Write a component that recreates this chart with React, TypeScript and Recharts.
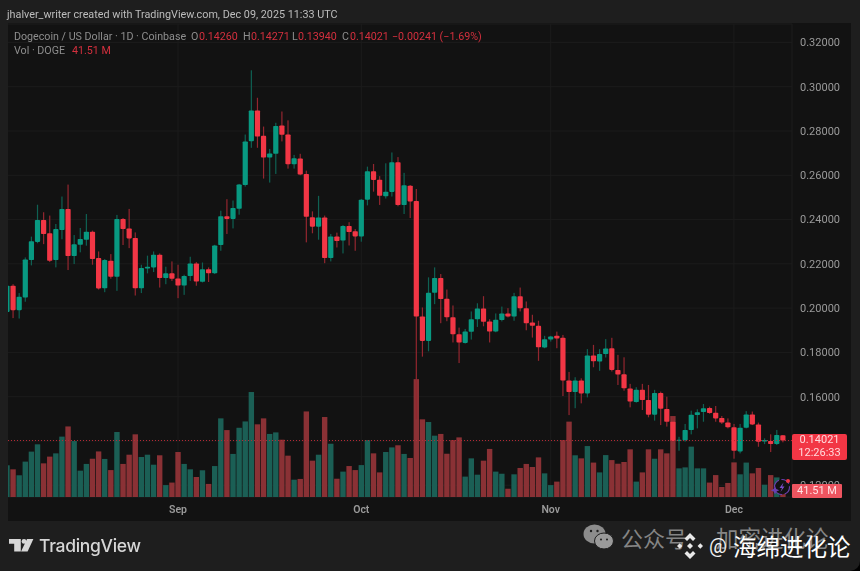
import React from "react";
import {
  ComposedChart,
  Bar,
  XAxis,
  YAxis,
  CartesianGrid,
  ReferenceLine,
} from "recharts";

const dates = [
  "Aug 4", "Aug 5", "Aug 6", "Aug 7", "Aug 8", "Aug 9", "Aug 10", "Aug 11", "Aug 12", "Aug 13", "Aug 14", "Aug 15", "Aug 16", "Aug 17",
  "Aug 18", "Aug 19", "Aug 20", "Aug 21", "Aug 22", "Aug 23", "Aug 24", "Aug 25", "Aug 26", "Aug 27", "Aug 28", "Aug 29", "Aug 30", "Aug 31",
  "Sep 1", "Sep 2", "Sep 3", "Sep 4", "Sep 5", "Sep 6", "Sep 7", "Sep 8", "Sep 9", "Sep 10", "Sep 11", "Sep 12", "Sep 13", "Sep 14", "Sep 15",
  "Sep 16", "Sep 17", "Sep 18", "Sep 19", "Sep 20", "Sep 21", "Sep 22", "Sep 23", "Sep 24", "Sep 25", "Sep 26", "Sep 27", "Sep 28", "Sep 29", "Sep 30",
  "Oct 1", "Oct 2", "Oct 3", "Oct 4", "Oct 5", "Oct 6", "Oct 7", "Oct 8", "Oct 9", "Oct 10", "Oct 11", "Oct 12", "Oct 13", "Oct 14", "Oct 15", "Oct 16",
  "Oct 17", "Oct 18", "Oct 19", "Oct 20", "Oct 21", "Oct 22", "Oct 23", "Oct 24", "Oct 25", "Oct 26", "Oct 27", "Oct 28", "Oct 29", "Oct 30", "Oct 31",
  "Nov 1", "Nov 2", "Nov 3", "Nov 4", "Nov 5", "Nov 6", "Nov 7", "Nov 8", "Nov 9", "Nov 10", "Nov 11", "Nov 12", "Nov 13", "Nov 14", "Nov 15",
  "Nov 16", "Nov 17", "Nov 18", "Nov 19", "Nov 20", "Nov 21", "Nov 22", "Nov 23", "Nov 24", "Nov 25", "Nov 26", "Nov 27", "Nov 28", "Nov 29", "Nov 30",
  "Dec 1", "Dec 2", "Dec 3", "Dec 4", "Dec 5", "Dec 6", "Dec 7", "Dec 8", "Dec 9", "Dec 10",
];

const opens = [
  0.1983, 0.2101, 0.1991, 0.2048, 0.2217, 0.2299, 0.2398, 0.2338, 0.2217, 0.2353, 0.2448, 0.2235, 0.2286, 0.2309, 0.2345, 0.2226,
  0.209, 0.2214, 0.2142, 0.2403, 0.236, 0.2317, 0.209, 0.2179, 0.2184, 0.2241, 0.2136, 0.2157, 0.2134, 0.2102, 0.2145, 0.2202,
  0.2119, 0.2176, 0.2157, 0.2285, 0.2415, 0.2403, 0.2449, 0.2556, 0.2754, 0.2893, 0.2778, 0.268, 0.2697, 0.2825, 0.2784, 0.265,
  0.2676, 0.2606, 0.241, 0.2368, 0.2409, 0.2226, 0.2324, 0.2305, 0.2371, 0.2347, 0.2324, 0.249, 0.2618, 0.258, 0.2505, 0.2525,
  0.2659, 0.2466, 0.2553, 0.2484, 0.1962, 0.1852, 0.2069, 0.2136, 0.2042, 0.1959, 0.1882, 0.1843, 0.1893, 0.195, 0.1998, 0.194,
  0.1894, 0.1946, 0.1976, 0.1962, 0.2054, 0.2, 0.1935, 0.192, 0.1822, 0.1858, 0.1875, 0.1866, 0.1673, 0.1621, 0.1673, 0.1615,
  0.1786, 0.1759, 0.1793, 0.1819, 0.1721, 0.1701, 0.1637, 0.1576, 0.1631, 0.1585, 0.1519, 0.1617, 0.1545, 0.1487, 0.1401, 0.1403,
  0.145, 0.1517, 0.1531, 0.1549, 0.1528, 0.1504, 0.1484, 0.1462, 0.1353, 0.146, 0.152, 0.1475, 0.1398, 0.14, 0.1386, 0.1426,
];

const highs = [
  0.2108, 0.2108, 0.2068, 0.2229, 0.2323, 0.2467, 0.2433, 0.2418, 0.238, 0.2504, 0.2558, 0.233, 0.2362, 0.2425, 0.235, 0.2256,
  0.2222, 0.2244, 0.2421, 0.2407, 0.2448, 0.2342, 0.2196, 0.2237, 0.2256, 0.2247, 0.2187, 0.2211, 0.2196, 0.2151, 0.2232, 0.2208,
  0.2206, 0.2184, 0.2286, 0.244, 0.2492, 0.2486, 0.2561, 0.2784, 0.3074, 0.295, 0.282, 0.2719, 0.2837, 0.2888, 0.2848, 0.2692,
  0.2697, 0.2621, 0.2437, 0.2507, 0.2418, 0.2335, 0.2341, 0.2375, 0.2388, 0.2357, 0.2493, 0.2639, 0.2651, 0.2596, 0.2654, 0.2703,
  0.2682, 0.2611, 0.2556, 0.2538, 0.2003, 0.2139, 0.2184, 0.2154, 0.2084, 0.2012, 0.1912, 0.1906, 0.1985, 0.2022, 0.2054, 0.195,
  0.1976, 0.2007, 0.2, 0.2069, 0.2093, 0.203, 0.197, 0.1943, 0.1875, 0.1875, 0.1894, 0.1879, 0.1712, 0.1688, 0.1683, 0.1815,
  0.1834, 0.1815, 0.186, 0.1866, 0.1789, 0.1778, 0.1658, 0.1643, 0.1658, 0.1653, 0.1631, 0.1623, 0.16, 0.151, 0.1419, 0.1477,
  0.1537, 0.1543, 0.1567, 0.1555, 0.1558, 0.1513, 0.1502, 0.1477, 0.1477, 0.1535, 0.1533, 0.1483, 0.1412, 0.143, 0.145, 0.14271,
];

const lows = [
  0.1976, 0.1955, 0.1953, 0.2029, 0.2193, 0.2293, 0.2289, 0.2208, 0.2184, 0.2311, 0.2172, 0.2199, 0.2252, 0.2282, 0.2196, 0.2084,
  0.2072, 0.2133, 0.2078, 0.2285, 0.2271, 0.2057, 0.2068, 0.2157, 0.2163, 0.2093, 0.2108, 0.2123, 0.2045, 0.206, 0.2123, 0.2101,
  0.2116, 0.2118, 0.2154, 0.2259, 0.2335, 0.236, 0.2422, 0.2549, 0.2724, 0.2724, 0.2585, 0.2567, 0.2606, 0.2753, 0.263, 0.263,
  0.26, 0.2297, 0.2338, 0.2309, 0.2203, 0.2211, 0.2274, 0.2247, 0.2283, 0.2259, 0.23, 0.2464, 0.2526, 0.2466, 0.2495, 0.2504,
  0.246, 0.2425, 0.2407, 0.1499, 0.1781, 0.1805, 0.2018, 0.1932, 0.1941, 0.1845, 0.1752, 0.184, 0.1858, 0.1915, 0.1918, 0.1845,
  0.1891, 0.194, 0.1958, 0.1943, 0.1985, 0.19, 0.1867, 0.1762, 0.1819, 0.1849, 0.1819, 0.1603, 0.1517, 0.1548, 0.157, 0.1597,
  0.1733, 0.1717, 0.1777, 0.1714, 0.1653, 0.1627, 0.1552, 0.1573, 0.154, 0.1507, 0.1492, 0.1472, 0.1465, 0.1397, 0.1356, 0.1397,
  0.143, 0.1457, 0.1487, 0.1523, 0.1487, 0.1477, 0.1457, 0.132, 0.1344, 0.1457, 0.1472, 0.1374, 0.1386, 0.135, 0.1382, 0.1394,
];

const closes = [
  0.2101, 0.1991, 0.2051, 0.222, 0.2302, 0.2398, 0.2335, 0.2214, 0.2357, 0.2448, 0.2235, 0.2288, 0.2312, 0.2345, 0.2222, 0.2089,
  0.2217, 0.2142, 0.2403, 0.2357, 0.2315, 0.209, 0.2181, 0.2187, 0.2241, 0.2136, 0.2157, 0.2133, 0.2102, 0.2145, 0.2202, 0.212,
  0.2176, 0.2157, 0.2283, 0.2415, 0.2403, 0.2452, 0.2558, 0.2753, 0.2893, 0.2775, 0.268, 0.2698, 0.2823, 0.2783, 0.265, 0.2677,
  0.2603, 0.2413, 0.2368, 0.2409, 0.2226, 0.2324, 0.2303, 0.2371, 0.2344, 0.2324, 0.249, 0.2618, 0.2579, 0.2507, 0.2526, 0.2659,
  0.2466, 0.2555, 0.2482, 0.1962, 0.1852, 0.2069, 0.2136, 0.2041, 0.1959, 0.1882, 0.1845, 0.1894, 0.195, 0.1998, 0.1938, 0.1894,
  0.1947, 0.1976, 0.1962, 0.2054, 0.2, 0.1932, 0.192, 0.1823, 0.186, 0.1872, 0.1863, 0.1673, 0.1621, 0.1673, 0.1615, 0.1786,
  0.176, 0.1793, 0.1818, 0.1721, 0.17, 0.1638, 0.1578, 0.1631, 0.1585, 0.1519, 0.1617, 0.1546, 0.1487, 0.14, 0.1406, 0.145,
  0.1519, 0.153, 0.1548, 0.1526, 0.1502, 0.1483, 0.1462, 0.1356, 0.146, 0.152, 0.1475, 0.1397, 0.1404, 0.1386, 0.1427, 0.14021,
];

// millions of DOGE
const volumes = [
  165, 144, 113, 184, 236, 274, 175, 210, 227, 314, 367, 291, 137, 172, 199, 237,
  198, 140, 338, 172, 220, 326, 208, 220, 168, 217, 62, 75, 234, 172, 144, 104,
  139, 68, 161, 409, 348, 224, 360, 393, 546, 378, 409, 328, 336, 298, 215, 90,
  94, 445, 189, 220, 416, 277, 95, 132, 161, 140, 166, 296, 227, 128, 234, 258,
  269, 224, 203, 613, 404, 390, 319, 328, 225, 296, 310, 106, 201, 116, 189, 250,
  132, 121, 43, 118, 151, 172, 156, 206, 123, 62, 80, 296, 392, 217, 201, 265,
  179, 128, 218, 192, 173, 182, 248, 80, 128, 248, 199, 248, 227, 421, 149, 154,
  262, 149, 149, 75, 114, 52, 73, 180, 118, 179, 123, 151, 64, 114, 102, 41.51,
];

const priceTicks = [0.12, 0.14, 0.16, 0.18, 0.2, 0.22, 0.24, 0.26, 0.28, 0.3, 0.32];
const monthTicks = ["Sep 1", "Oct 1", "Nov 1", "Dec 1"];
const lastPrice = 0.14021;

const chartData = dates.map((date, i) => ({
  date,
  open: opens[i],
  close: closes[i],
  range: highs[i] === undefined ? undefined : [lows[i], highs[i]],
  volume: volumes[i],
}));

const RED = "#f23645";
const GREEN = "#089981";

function Candle(props: any) {
  const { x, y, width, height, payload } = props;
  if (!payload || !payload.range) return null;
  const [low, high] = payload.range;
  const pxPerUnit = Math.abs(height) / (high - low);
  const top = y + (high - Math.max(payload.open, payload.close)) * pxPerUnit;
  const bottom = y + (high - Math.min(payload.open, payload.close)) * pxPerUnit;
  const up = payload.close >= payload.open;
  const cx = x + width / 2;
  return (
    <g>
      <rect x={cx - 0.6} y={y} width={1.2} height={Math.abs(height)} fill={up ? "#0f6153" : "#93262f"} />
      <rect x={cx - 2.6} y={top} width={5.2} height={Math.max(bottom - top, 1)} rx={0.8} fill={up ? GREEN : RED} />
    </g>
  );
}

function VolumeBar(props: any) {
  const { x, y, width, height, payload } = props;
  if (!payload || payload.volume === undefined) return null;
  return (
    <rect
      x={x + width / 2 - 2.7}
      y={y}
      width={5.4}
      height={height}
      fill={payload.close >= payload.open ? "#1b5f55" : "#8a3135"}
    />
  );
}

const abs = (left: number, top: number, extra: React.CSSProperties = {}): React.CSSProperties => ({
  position: "absolute",
  left,
  top,
  whiteSpace: "nowrap",
  ...extra,
});

const legendFont = "Roboto, sans-serif";

function LegendText({ left, top, color, children }: any) {
  return (
    <div style={abs(left, top, { fontFamily: legendFont, fontSize: 10.7, lineHeight: "14px", color })}>{children}</div>
  );
}

export default function App() {
  return (
    <div style={{ position: "absolute", left: 0, top: 0, width: 860, height: 571, background: "#000", overflow: "hidden" }}>
      <div style={{ position: "absolute", inset: 0, background: "#1e1e1e", borderBottomRightRadius: 10 }} />

      {/* the reference is a slightly soft screenshot */}
      <div style={{ position: "absolute", left: 0, top: 0, width: 860, height: 571, filter: "blur(0.35px)" }}>
        <div style={{ position: "absolute", left: 8, top: 23, width: 843, height: 498, background: "#121212" }} />

        <ComposedChart
          width={860}
          height={571}
          data={chartData}
          margin={{ top: 24, right: 0, bottom: 50, left: 3.85 }}
          style={{ position: "absolute", left: 0, top: 0 }}
        >
          <CartesianGrid stroke="#1c1c1c" yAxisId="price" />
          <XAxis
            dataKey="date"
            ticks={monthTicks}
            interval={0}
            height={24}
            axisLine={false}
            tickLine={false}
            tickSize={0}
            tickMargin={9}
            tickFormatter={(v: string) => v.slice(0, 3)}
            tick={{ fill: "#9a9a9a", fontSize: 10.5, fontWeight: 600, fontFamily: legendFont }}
          />
          <XAxis xAxisId="vol" dataKey="date" hide />
          <YAxis
            yAxisId="price"
            orientation="right"
            width={68}
            domain={[0.11471, 0.32831]}
            allowDataOverflow
            ticks={priceTicks}
            interval={0}
            axisLine={false}
            tickLine={false}
            tickSize={0}
            tickMargin={8}
            tickFormatter={(v: number) => (v === 0.14 ? "" : v.toFixed(5))}
            tick={{ fill: "#9a9a9a", fontSize: 11, fontFamily: legendFont }}
          />
          <YAxis yAxisId="vol" hide domain={[0, 2460]} allowDataOverflow />
          <Bar xAxisId="vol" yAxisId="vol" dataKey="volume" shape={<VolumeBar />} isAnimationActive={false} />
          <Bar yAxisId="price" dataKey="range" shape={<Candle />} isAnimationActive={false} />
          <ReferenceLine yAxisId="price" y={lastPrice} stroke="#b92b37" strokeDasharray="1 2" />
        </ComposedChart>

        {/* left edge of the frame hides the half candle */}
        <div style={{ position: "absolute", left: 0, top: 23, width: 7.6, height: 498, background: "#1e1e1e" }} />

        <div style={abs(7, 8, { fontFamily: legendFont, fontSize: 10.8, lineHeight: "14px", color: "#bdbdbd" })}>
          jhalver_writer created with TradingView.com, Dec 09, 2025 11:33 UTC
        </div>

        <LegendText left={14} top={30} color="#8e8e8e">Dogecoin / US Dollar · 1D · Coinbase</LegendText>
        <LegendText left={191} top={30} color="#8e8e8e">O</LegendText>
        <LegendText left={199} top={30} color="#d4303e">0.14260</LegendText>
        <LegendText left={243} top={30} color="#8e8e8e">H</LegendText>
        <LegendText left={251} top={30} color="#d4303e">0.14271</LegendText>
        <LegendText left={292} top={30} color="#8e8e8e">L</LegendText>
        <LegendText left={298} top={30} color="#d4303e">0.13940</LegendText>
        <LegendText left={342} top={30} color="#8e8e8e">C</LegendText>
        <LegendText left={350} top={30} color="#d4303e">0.14021</LegendText>
        <LegendText left={392} top={30} color="#d4303e">−0.00241 (−1.69%)</LegendText>
        <LegendText left={14} top={44} color="#8e8e8e">Vol · DOGE</LegendText>
        <LegendText left={72} top={44} color="#d4303e">41.51 M</LegendText>

        <div
          style={abs(792, 433.5, {
            width: 55,
            height: 26,
            background: RED,
            borderRadius: 2,
            color: "#ffd9dc",
            fontFamily: legendFont,
            fontSize: 11,
            lineHeight: "12.5px",
            paddingTop: 0.5,
            textAlign: "center",
          })}
        >
          <div>0.14021</div>
          <div>12:26:33</div>
        </div>

        <div
          style={abs(792, 484, {
            width: 50,
            height: 13.5,
            background: "#ee5560",
            borderRadius: 1,
            color: "#ffe3e5",
            fontFamily: legendFont,
            fontSize: 11,
            lineHeight: "13.5px",
            textAlign: "center",
          })}
        >
          41.51 M
        </div>

        <svg style={abs(770, 476)} width={24} height={24} viewBox="0 0 24 24">
          <circle cx={12} cy={11} r={7.5} fill="#121212" stroke="#6a3fb0" strokeWidth={1.1} strokeDasharray="9 2.5" />
          <path d="M13.5 6.5 L9.5 12 L12 12 L10.5 16 L14.5 10.5 L12.2 10.5 Z" fill="#7b4cc8" />
          <path d="M5 10 L6.3 13 L9.3 14.3 L6.3 15.6 L5 18.6 L3.7 15.6 L0.7 14.3 L3.7 13 Z" fill="#6a3fb0" />
          <circle cx={18} cy={5} r={2} fill={RED} />
        </svg>

        {/* TradingView mark */}
        <svg style={abs(9, 539)} width={25} height={13} viewBox="0 0 25 13">
          <path d="M0 0 H11.8 V12.6 H5.2 V4.7 H0 Z" fill="#d6d6d6" />
          <circle cx={15} cy={2.4} r={2.4} fill="#d6d6d6" />
          <path d="M18 0 H24.4 L18.6 12.6 H12 Z" fill="#d6d6d6" />
        </svg>
        <div style={abs(39, 535, { fontFamily: "Inter, sans-serif", fontWeight: 500, fontSize: 17.5, lineHeight: "22px", color: "#d6d6d6", letterSpacing: -0.3 })}>
          TradingView
        </div>
      </div>

      {/* watermarks */}
      <svg style={abs(583, 524)} width={31} height={26} viewBox="0 0 31 26">
        <ellipse cx={11.5} cy={10} rx={11} ry={9.5} fill="#8c8c8c" />
        <ellipse cx={21} cy={17} rx={9.5} ry={8} fill="#9a9a9a" stroke="#1e1e1e" strokeWidth={1} />
        <circle cx={8} cy={7} r={1.2} fill="#1e1e1e" />
        <circle cx={14.5} cy={7} r={1.2} fill="#1e1e1e" />
        <circle cx={18} cy={15.5} r={1} fill="#1e1e1e" />
        <circle cx={24} cy={15.5} r={1} fill="#1e1e1e" />
      </svg>
      <div style={abs(621, 523, { fontFamily: "'Noto Sans CJK SC'", fontSize: 22, lineHeight: "28px", color: "#858585" })}>公众号</div>
      <div style={abs(716, 523, { fontFamily: "'Noto Sans CJK SC'", fontSize: 22.5, lineHeight: "28px", color: "#858585" })}>加密进化论</div>
      <svg style={abs(676, 532)} width={28} height={28} viewBox="0 0 28 28">
        <g fill="#e8e8e8">
          <path d="M14 1 L19.5 6.5 L17 9 L14 6 L11 9 L8.5 6.5 Z" />
          <path d="M14 27 L8.5 21.5 L11 19 L14 22 L17 19 L19.5 21.5 Z" />
          <path d="M1 14 L3.7 11.3 L6.4 14 L3.7 16.7 Z" />
          <path d="M27 14 L24.3 11.3 L21.6 14 L24.3 16.7 Z" />
          <path d="M14 11 L17 14 L14 17 L11 14 Z" />
        </g>
      </svg>
      <div style={abs(709, 533, { fontFamily: "Roboto, sans-serif", fontSize: 20, lineHeight: "26px", color: "#f0f0f0" })}>@</div>
      <div style={abs(733, 531, { fontFamily: "'Noto Sans CJK SC'", fontSize: 23.5, lineHeight: "30px", color: "#ffffff" })}>海绵进化论</div>
    </div>
  );
}
